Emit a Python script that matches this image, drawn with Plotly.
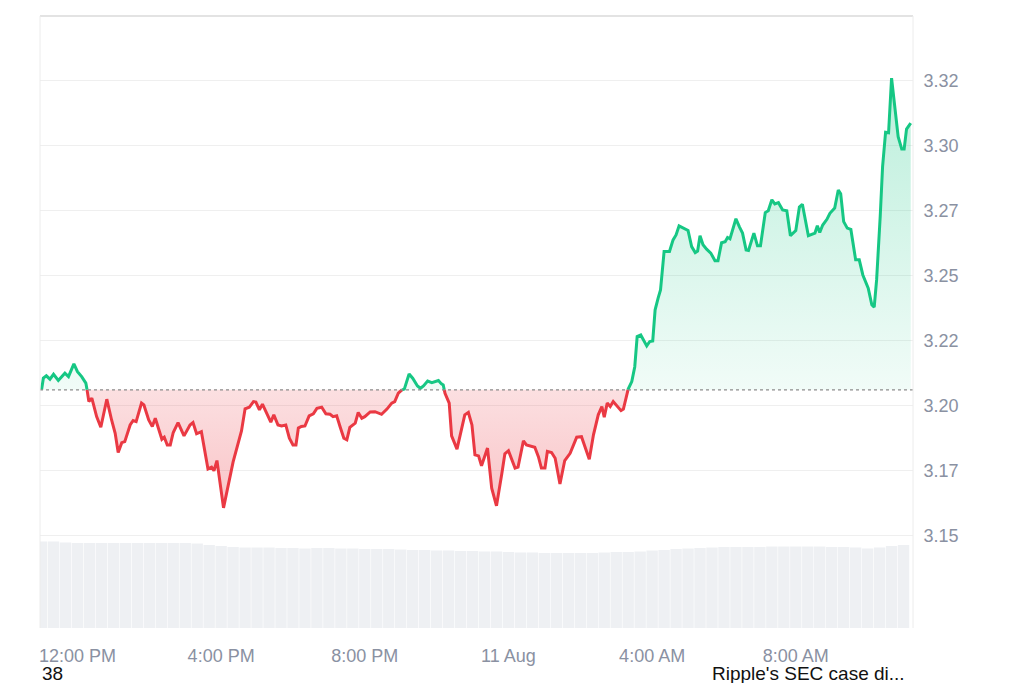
import pandas as pd
import plotly.graph_objects as go

# ---------------- data ----------------
times_aug10 = ["11:00","11:03","11:08","11:14","11:20","11:28","11:39","11:45","11:54","12:00",
    "12:07","12:14","12:16","12:19","12:24","12:32","12:39","12:49","12:57","13:03",
    "13:08","13:14","13:19","13:28","13:33","13:38","13:47","13:51","13:59","14:05",
    "14:10","14:21","14:25","14:30","14:35","14:40","14:48","14:58","15:08","15:13",
    "15:19","15:27","15:38","15:44","15:48","15:53","16:04","16:20","16:34","16:40",
    "16:47","16:54","16:58","17:04","17:09","17:16","17:23","17:28","17:35","17:41",
    "17:48","17:54","18:00","18:05","18:09","18:14","18:20","18:27","18:34","18:40",
    "18:48","18:55","19:02","19:07","19:13","19:19","19:25","19:30","19:35","19:44",
    "19:49","19:55","20:00","20:09","20:17","20:28","20:37","20:45","20:50","20:56",
    "21:02","21:06","21:14","21:20","21:28","21:33","21:38","21:45","21:52","21:57",
    "22:03","22:08","22:11","22:14","22:21","22:25","22:34","22:39","22:47","22:53",
    "22:59","23:04","23:10","23:15","23:25","23:32","23:40","23:49","23:54"]
prices_aug10 = [3.2059,3.2104,3.2113,3.2100,3.2119,3.2095,3.2123,3.2110,3.2159,3.2129,
    3.2110,3.2085,3.2059,3.2014,3.2027,3.1956,3.1915,3.2023,3.1943,3.1892,
    3.1818,3.1856,3.1860,3.1924,3.1941,3.1937,3.2008,3.2001,3.1943,3.1918,
    3.1950,3.1869,3.1877,3.1847,3.1847,3.1895,3.1933,3.1882,3.1924,3.1933,
    3.1890,3.1898,3.1755,3.1762,3.1748,3.1787,3.1605,3.1782,3.1901,3.1986,
    3.1992,3.2014,3.2012,3.1982,3.2004,3.1969,3.1935,3.1963,3.1924,3.1920,
    3.1924,3.1873,3.1847,3.1847,3.1912,3.1918,3.1920,3.1959,3.1967,3.1988,
    3.1992,3.1967,3.1965,3.1956,3.1959,3.1915,3.1873,3.1867,3.1915,3.1931,
    3.1972,3.1950,3.1956,3.1974,3.1975,3.1965,3.1985,3.2008,3.2014,3.2046,
    3.2059,3.2062,3.2120,3.2104,3.2074,3.2065,3.2074,3.2093,3.2087,3.2091,
    3.2095,3.2082,3.2078,3.2046,3.2008,3.1882,3.1831,3.1879,3.1963,3.1972,
    3.1924,3.1809,3.1805,3.1767,3.1835,3.1681,3.1613,3.1738,3.1813]

times_aug11 = ["00:00","00:11","00:16","00:25","00:30","00:39","00:44","00:50","00:55","01:01",
    "01:05","01:12","01:18","01:26","01:34","01:43","01:48","01:54","02:02","02:06",
    "02:15","02:22","02:30","02:36","02:40","02:45","02:50","02:55","03:02","03:08",
    "03:12","03:20","03:26","03:31","03:35","03:41","03:51","03:56","04:01","04:05",
    "04:10","04:14","04:20","04:29","04:35","04:40","04:45","04:52","05:00","05:06",
    "05:12","05:16","05:20","05:25","05:31","05:38","05:45","05:50","05:56","06:02",
    "06:06","06:10","06:16","06:20","06:26","06:31","06:37","06:41","06:50","06:56",
    "07:01","07:09","07:14","07:20","07:25","07:31","07:38","07:45","07:51","08:00",
    "08:06","08:11","08:21","08:29","08:32","08:36","08:40","08:45","08:52","08:57",
    "09:05","09:11","09:15","09:20","09:26","09:32","09:40","09:46","09:52","10:01",
    "10:07","10:11","10:15","10:21","10:25","10:30","10:35","10:40","10:46","10:51",
    "10:57","11:01","11:05","11:12"]
prices_aug11 = [3.1825,3.1758,3.1762,3.1863,3.1847,3.1843,3.1838,3.1802,3.1758,3.1758,
    3.1822,3.1818,3.1796,3.1697,3.1787,3.1815,3.1843,3.1877,3.1879,3.1854,
    3.1792,3.1886,3.1963,3.1995,3.1954,3.2008,3.1995,3.2014,3.1997,3.1979,
    3.1985,3.2062,3.2091,3.2148,3.2264,3.2270,3.2228,3.2245,3.2247,3.2367,
    3.2412,3.2443,3.2591,3.2591,3.2636,3.2655,3.2690,3.2681,3.2672,3.2610,
    3.2587,3.2593,3.2652,3.2617,3.2600,3.2585,3.2556,3.2556,3.2625,3.2629,
    3.2645,3.2640,3.2693,3.2717,3.2685,3.2662,3.2597,3.2595,3.2662,3.2613,
    3.2613,3.2741,3.2748,3.2790,3.2774,3.2779,3.2751,3.2748,3.2652,3.2672,
    3.2762,3.2773,3.2652,3.2659,3.2662,3.2690,3.2664,3.2693,3.2715,3.2738,
    3.2758,3.2828,3.2813,3.2706,3.2681,3.2676,3.2559,3.2559,3.2501,3.2450,
    3.2386,3.2377,3.2482,3.2725,3.2918,3.3050,3.3048,3.3258,3.3142,3.3033,
    3.2985,3.2985,3.3062,3.3085]

base_price = 3.2059  # opening price (dotted reference line)

# 20-minute volume bars, starting 10 Aug 11:00
volume_start = "2025-08-10 11:00"
volume = [8.65,8.65,8.55,8.5,8.5,8.5,8.5,8.5,8.5,8.5,8.5,8.5,8.5,8.45,8.3,8.2,8.1,8.05,
          8.05,8.05,8.0,8.0,7.95,8.0,8.0,7.95,7.95,7.9,7.9,7.9,7.85,7.8,7.8,7.75,7.75,
          7.7,7.7,7.65,7.65,7.6,7.55,7.55,7.5,7.5,7.5,7.5,7.5,7.55,7.6,7.6,7.65,7.75,
          7.8,7.9,7.95,8.0,8.05,8.1,8.1,8.1,8.1,8.15,8.15,8.15,8.15,8.15,8.1,8.1,8.05,
          7.95,8.05,8.2,8.3]

y_ticks = [3.15, 3.175, 3.20, 3.225, 3.25, 3.275, 3.30, 3.325]
y_ticktext = ["3.15", "3.17", "3.20", "3.22", "3.25", "3.27", "3.30", "3.32"]
x_ticks = ["2025-08-10 12:00", "2025-08-10 16:00", "2025-08-10 20:00",
           "2025-08-11 00:00", "2025-08-11 04:00", "2025-08-11 08:00"]
x_ticktext = ["12:00 PM", "4:00 PM", "8:00 PM", "11 Aug", "4:00 AM", "8:00 AM"]
note_left = "38"
note_right = "Ripple's SEC case di..."

# ---------------- build ----------------
GREEN = "#16c784"
RED = "#ea3943"

t = list(pd.to_datetime(["2025-08-10 " + s for s in times_aug10] +
                        ["2025-08-11 " + s for s in times_aug11]))
p = prices_aug10 + prices_aug11

xs, ys = [], []
for i in range(len(p)):
    if i > 0:
        p0, p1 = p[i - 1], p[i]
        if (p0 - base_price) * (p1 - base_price) < 0:
            f = (base_price - p0) / (p1 - p0)
            xs.append(t[i - 1] + (t[i] - t[i - 1]) * f)
            ys.append(base_price)
    xs.append(t[i])
    ys.append(p[i])

y_up = [max(v, base_price) for v in ys]
y_dn = [min(v, base_price) for v in ys]
line_up = [v if v >= base_price else None for v in ys]
line_dn = [v if v <= base_price else None for v in ys]
base_arr = [base_price] * len(xs)

vol_t = pd.date_range(volume_start, periods=len(volume), freq="20min")

fig = go.Figure()
fig.add_trace(go.Bar(x=vol_t, y=volume, yaxis="y2", marker=dict(color="#eef0f3", line=dict(width=0)),
                     hoverinfo="skip", showlegend=False))

fig.add_trace(go.Scatter(x=xs, y=base_arr, mode="lines", line=dict(width=0), hoverinfo="skip", showlegend=False))
fig.add_trace(go.Scatter(x=xs, y=y_up, mode="lines", line=dict(width=0), fill="tonexty",
                         fillgradient=dict(type="vertical", start=base_price, stop=3.33,
                                           colorscale=[[0, "rgba(22,199,132,0.06)"], [1, "rgba(22,199,132,0.30)"]]),
                         hoverinfo="skip", showlegend=False))
fig.add_trace(go.Scatter(x=xs, y=base_arr, mode="lines", line=dict(width=0), hoverinfo="skip", showlegend=False))
fig.add_trace(go.Scatter(x=xs, y=y_dn, mode="lines", line=dict(width=0), fill="tonexty",
                         fillgradient=dict(type="vertical", start=3.16, stop=base_price,
                                           colorscale=[[0, "rgba(234,57,67,0.30)"], [1, "rgba(234,57,67,0.16)"]]),
                         hoverinfo="skip", showlegend=False))

fig.add_trace(go.Scatter(x=xs, y=line_up, mode="lines", line=dict(color=GREEN, width=3),
                         connectgaps=False, showlegend=False))
fig.add_trace(go.Scatter(x=xs, y=line_dn, mode="lines", line=dict(color=RED, width=3),
                         connectgaps=False, showlegend=False))

fig.add_shape(type="line", xref="paper", yref="y", x0=0, x1=1, y0=base_price, y1=base_price,
              line=dict(color="#8c8c8c", width=1.2, dash="dot"))
# frame
fig.add_shape(type="line", xref="paper", yref="paper", x0=0, x1=1, y0=1, y1=1,
              line=dict(color="#e3e3e3", width=2))
fig.add_shape(type="line", xref="paper", yref="paper", x0=0, x1=0, y0=0, y1=1,
              line=dict(color="#ececec", width=1))
fig.add_shape(type="line", xref="paper", yref="paper", x0=1, x1=1, y0=0, y1=1,
              line=dict(color="#ececec", width=1))

fig.add_annotation(text=note_left, xref="paper", yref="paper", x=0.0, y=-0.075, xanchor="left",
                   yanchor="middle", showarrow=False, font=dict(size=19, color="#111111"))
fig.add_annotation(text=note_right, xref="paper", yref="paper", x=0.9935, y=-0.075, xanchor="right",
                   yanchor="middle", showarrow=False, font=dict(size=19, color="#111111"))

fig.update_layout(
    width=1024, height=683, autosize=False,
    margin=dict(l=40, r=111, t=16, b=55),
    paper_bgcolor="white", plot_bgcolor="white",
    font=dict(family="Liberation Sans, Arial, sans-serif", size=18, color="#8a91a2"),
    bargap=0.05,
    xaxis=dict(type="date", range=["2025-08-10 10:57:24", "2025-08-11 11:15:48"],
               tickvals=x_ticks, ticktext=x_ticktext, showgrid=False, zeroline=False,
               ticks="outside", ticklen=11, tickcolor="rgba(0,0,0,0)", showline=False,
               tickfont=dict(size=18, color="#8a91a2")),
    yaxis=dict(range=[3.1143, 3.3497], side="right", tickvals=y_ticks, ticktext=y_ticktext,
               showgrid=True, gridcolor="#efefef", gridwidth=1, zeroline=False,
               ticks="outside", ticklen=6, tickcolor="rgba(0,0,0,0)", showline=False,
               tickfont=dict(size=18, color="#8a91a2")),
    yaxis2=dict(range=[0, 61.2], overlaying="y", visible=False, showgrid=False),
)

fig.write_html("out.html", config={"displayModeBar": False},
               post_script="document.body.style.margin='0';document.body.style.overflow='hidden';")
